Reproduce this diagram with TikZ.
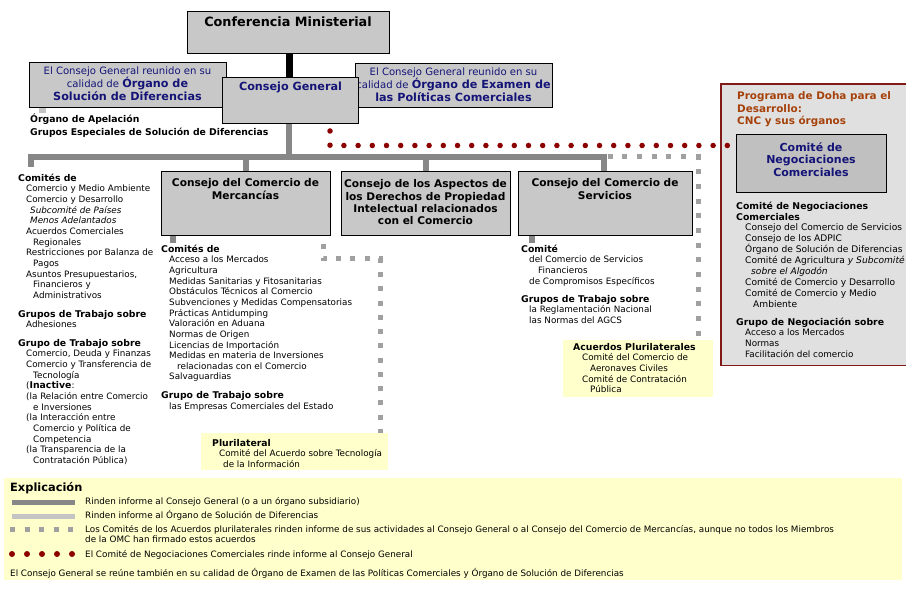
\documentclass[tikz,border=0pt]{standalone}
\usepackage{fontspec}
\setmainfont{DejaVu Sans}[BoldFont={DejaVu Sans Bold},ItalicFont={DejaVu Sans Oblique},BoldItalicFont={DejaVu Sans Bold Oblique}]
\usetikzlibrary{calc}
\definecolor{boxgray}{RGB}{200,200,200}
\definecolor{cncgray}{RGB}{192,192,192}
\definecolor{dohagray}{RGB}{224,224,224}
\definecolor{repgray}{RGB}{135,135,135}
\definecolor{dsbgray}{RGB}{196,196,196}
\definecolor{sqgray}{RGB}{160,160,160}
\definecolor{dotred}{RGB}{140,0,0}
\definecolor{navy}{RGB}{20,20,120}
\definecolor{doharust}{RGB}{165,65,10}
\definecolor{dohabord}{RGB}{130,25,25}
\definecolor{paleyellow}{RGB}{255,255,204}
\newcommand\fbody{\fontsize{8.8}{10.65}\selectfont\lineskiplimit=-5pt\lineskip=0pt}
\newcommand\fdoha{\fontsize{9.1}{10.9}\selectfont\lineskiplimit=-5pt\lineskip=0pt}
\newcommand\hd[1]{{\fontsize{9.3}{10.65}\selectfont\bfseries #1}}
\newcommand\hb[1]{{\fontsize{11.2}{13}\selectfont\bfseries #1}}
\newcommand\ia{\hspace*{8pt}}
\newcommand\ib{\hspace*{15pt}}
\newcommand\fstr{\rule{0pt}{9pt}}
\tikzset{
  box/.style={draw=black, line width=1.1pt, fill=boxgray, anchor=north west, inner sep=0pt},
  tx/.style={anchor=north west, inner sep=0pt, align=left, font=\fbody},
  ttl/.style={anchor=north, inner sep=0pt, align=center},
  rep/.style={draw=repgray, line width=6pt},
  dsbl/.style={draw=dsbgray, line width=7pt},
  sqdot/.style={draw=sqgray, line width=5pt, dash pattern=on 5pt off 9.25pt},
  reddot/.style={draw=dotred, line width=5.5pt, line cap=round, dash pattern=on 0pt off 14.2pt},
  ybox/.style={fill=paleyellow, anchor=north west, inner sep=0pt},
}
\begin{document}
\begin{tikzpicture}[x=1pt,y=-1pt]
\useasboundingbox (0,0) rectangle (914,604);
\fill[white] (0,0) rectangle (914,604);

% legend background
\node[ybox, minimum width=898pt, minimum height=102pt] (legend) at (4,478) {};

% top level
\node[box, minimum width=202pt, minimum height=42pt] (cm) at (187,11) {};
\node[ttl, font=\fontsize{12.8}{14}\selectfont\bfseries] (cmt) at (288,14.6) {\rule{0pt}{12pt}Conferencia Ministerial};

\node[box, minimum width=197pt, minimum height=45pt] (dsb) at (29,62) {};
\node[ttl, font=\fontsize{10.1}{13}\selectfont, text=navy] (dsbt) at (127.5,63.5)
  {\rule{0pt}{11pt}El Consejo General reunido en su\\calidad de \hb{Órgano de}\\\hb{Solución de Diferencias}};

\node[box, minimum width=197pt, minimum height=44pt] (tprb) at (355,63) {};
\node[ttl, font=\fontsize{10.1}{13}\selectfont, text=navy] (tprbt) at (453.5,64.5)
  {\rule{0pt}{11pt}El Consejo General reunido en su\\calidad de \hb{Órgano de Examen de}\\\hb{las Políticas Comerciales}};

\node[box, minimum width=136pt, minimum height=46pt] (cg) at (222,77) {};
\node[ttl, font=\fontsize{11.2}{13}\selectfont\bfseries, text=navy] (cgt) at (290.5,78) {\rule{0pt}{12pt}Consejo General};

\coordinate (cmx) at (289,0);
\draw[line width=7pt, black] (cmx |- cm.south) -- (cmx |- cg.north);

% DSB stub and bodies
\coordinate (dsbs) at (42,113);
\draw[dsbl] (dsbs |- dsb.south) -- (dsbs);
\node[tx, font=\fontsize{9.3}{13}\selectfont\bfseries] (apel) at (30,113.2)
  {\fstr Órgano de Apelación\\Grupos Especiales de Solución de Diferencias};

% second row boxes
\node[box, minimum width=169pt, minimum height=64pt] (merc) at (161,171) {};
\node[ttl, font=\fontsize{10.6}{12.6}\selectfont\bfseries] (merct) at (245.5,175.8)
  {\rule{0pt}{11pt}Consejo del Comercio de\\Mercancías};
\node[box, minimum width=169pt, minimum height=64pt] (trips) at (341,171) {};
\node[ttl, font=\fontsize{10.6}{12.3}\selectfont\bfseries] (tripst) at (425.5,176.8)
  {\rule{0pt}{11pt}Consejo de los Aspectos de\\los Derechos de Propiedad\\Intelectual relacionados\\con el Comercio};
\node[box, minimum width=174pt, minimum height=64pt] (svc) at (518,171) {};
\node[ttl, font=\fontsize{10.6}{12.6}\selectfont\bfseries] (svct) at (605,175.8)
  {\rule{0pt}{11pt}Consejo del Comercio de\\Servicios};

% main reporting bar
\coordinate (barL) at (31,157);
\coordinate (barR) at (603.5,157);
\coordinate (lstub) at (31,167);
\draw[rep] (cmx |- cg.south) -- (cmx |- barL);
\draw[rep] (lstub) -- (barL) -- (barR) -- (barR |- svc.north);
\draw[rep] (merc.north |- barL) -- (merc.north);
\draw[rep] (trips.north |- barL) -- (trips.north);
\coordinate (ms) at (173,243);
\draw[rep] (ms |- merc.south) -- (ms);
\coordinate (ss) at (532,243);
\draw[rep] (ss |- svc.south) -- (ss);

% left column
\node[tx] (g1) at (18,172) {\fstr\hd{Comités de}\\
\ia Comercio y Medio Ambiente\\
\ia Comercio y Desarrollo\\
\hspace*{12pt}\textit{Subcomité de Países}\\
\hspace*{12pt}\textit{Menos Adelantados}\\
\ia Acuerdos Comerciales\\
\ib Regionales\\
\ia Restricciones por Balanza de\\
\ib Pagos\\
\ia Asuntos Presupuestarios,\\
\ib Financieros y\\
\ib Administrativos};
\node[tx] (g2) at (18,308) {\fstr\hd{Grupos de Trabajo sobre}\\
\ia Adhesiones};
\node[tx] (g3) at (18,337) {\fstr\hd{Grupo de Trabajo sobre}\\
\ia Comercio, Deuda y Finanzas\\
\ia Comercio y Transferencia de\\
\ib Tecnología\\
\ia (\hd{Inactive}:\\
\ia (la Relación entre Comercio\\
\ib e Inversiones\\
\ia (la Interacción entre\\
\ib Comercio y Política de\\
\ib Competencia\\
\ia (la Transparencia de la\\
\ib Contratación Pública)};

% goods column
\node[tx] (g4) at (161,243) {\fstr\hd{Comités de}\\
\ia Acceso a los Mercados\\
\ia Agricultura\\
\ia Medidas Sanitarias y Fitosanitarias\\
\ia Obstáculos Técnicos al Comercio\\
\ia Subvenciones y Medidas Compensatorias\\
\ia Prácticas Antidumping\\
\ia Valoración en Aduana\\
\ia Normas de Origen\\
\ia Licencias de Importación\\
\ia Medidas en materia de Inversiones\\
\hspace*{16pt}relacionadas con el Comercio\\
\ia Salvaguardias};
\node[tx] (g5) at (161,389.5) {\fstr\hd{Grupo de Trabajo sobre}\\
\ia las Empresas Comerciales del Estado};

% plurilateral (goods)
\node[ybox, minimum width=187pt, minimum height=37pt] (pluri) at (201,433) {};
\node[tx] (plurit) at (212,437) {\fstr\hd{Plurilateral}\\
\hspace*{7pt}Comité del Acuerdo sobre Tecnología\\
\hspace*{11pt}de la Información};
\coordinate (pc) at (323,259);
\coordinate (pq) at (380,259);
\draw[sqdot, shorten <=7.5pt] (pc |- merc.south) -- (pc) -- (pq) -- (pq |- pluri.north);

% services column
\node[tx] (g6) at (521,243) {\fstr\hd{Comité}\\
\ia del Comercio de Servicios\\
\hspace*{17pt}Financieros\\
\ia de Compromisos Específicos};
\node[tx] (g7) at (521,293) {\fstr\hd{Grupos de Trabajo sobre}\\
\ia la Reglamentación Nacional\\
\ia las Normas del AGCS};

% plurilateral agreements
\node[ybox, minimum width=150pt, minimum height=57pt] (acu) at (563,340) {};
\node[tx] (acut) at (573,341) {\fstr\hd{Acuerdos Plurilaterales}\\
\hspace*{9pt}Comité del Comercio de\\
\hspace*{17pt}Aeronaves Civiles\\
\hspace*{9pt}Comité de Contratación\\
\hspace*{17pt}Pública};
\coordinate (q1) at (607.5,157);
\coordinate (q2) at (698,157);
\draw[sqdot, dash pattern=on 5pt off 9.667pt] (q1) -- (q2) -- (q2 |- acu.north);

% Doha box
\node[anchor=north west, fill=dohagray, minimum width=185pt, minimum height=281pt, inner sep=0pt] (doha) at (721,84) {};
\draw[dohabord, line width=1.5pt] (doha.north east) -- (doha.north west) -- (doha.south west) -- (doha.south east);
\node[tx, font=\fontsize{10.4}{12.5}\selectfont\bfseries, text=doharust] (dohat) at (737,88.8)
  {\rule{0pt}{11pt}Programa de Doha para el\\Desarrollo:\\CNC y sus órganos};
\node[box, fill=cncgray, minimum width=150pt, minimum height=58pt] (cnc) at (736,134) {};
\node[ttl, font=\fontsize{11}{12.7}\selectfont\bfseries, text=navy] (cnct) at (811,139)
  {\rule{0pt}{12pt}Comité de\\Negociaciones\\Comerciales};
\node[tx, font=\fdoha] (g8) at (736,200) {\fstr\hd{Comité de Negociaciones}\\
\hd{Comerciales}\\
\hspace*{9pt}Consejo del Comercio de Servicios\\
\hspace*{9pt}Consejo de los ADPIC\\
\hspace*{9pt}Órgano de Solución de Diferencias\\
\hspace*{9pt}Comité de Agricultura \textit{y Subcomité}\\
\hspace*{15pt}\textit{sobre el Algodón}\\
\hspace*{9pt}Comité de Comercio y Desarrollo\\
\hspace*{9pt}Comité de Comercio y Medio\\
\hspace*{17pt}Ambiente};
\node[tx] (g9) at (736,316) {\fstr\hd{Grupo de Negociación sobre}\\
\hspace*{9pt}Acceso a los Mercados\\
\hspace*{9pt}Normas\\
\hspace*{9pt}Facilitación del comercio};

% TNC reports to General Council
\coordinate (rd) at (330,131);
\coordinate (rdc) at (330,145.5);
\draw[reddot] (rd) -- (rdc) -- (rdc -| cnc.west);

% legend
\node[tx, font=\fontsize{11.4}{13}\selectfont\bfseries] (expl) at (10,479) {\rule{0pt}{12pt}Explicación};
\draw[repgray, line width=5pt] (12,502) -- (75,502);
\draw[dsbgray, line width=5pt] (12,516) -- (75,516);
\draw[sqgray, line width=5pt, dash pattern=on 5pt off 9.6pt] (10,529) -- (76,529);
\draw[dotred, line width=6pt, line cap=round, dash pattern=on 0pt off 15pt] (12,554) -- (73,554);
\node[tx] (l1) at (85,495) {\fstr Rinden informe al Consejo General (o a un órgano subsidiario)};
\node[tx] (l2) at (85,509.5) {\fstr Rinden informe al Órgano de Solución de Diferencias};
\node[tx] (l3) at (85,523) {\fstr Los Comités de los Acuerdos plurilaterales rinden informe de sus actividades al Consejo General o al Consejo del Comercio de Mercancías, aunque no todos los Miembros\\de la OMC han firmado estos acuerdos};
\node[tx] (l4) at (85,548) {\fstr El Comité de Negociaciones Comerciales rinde informe al Consejo General};
\node[tx] (l5) at (10,567) {\fstr El Consejo General se reúne también en su calidad de Órgano de Examen de las Políticas Comerciales y Órgano de Solución de Diferencias};
\end{tikzpicture}
\end{document}
